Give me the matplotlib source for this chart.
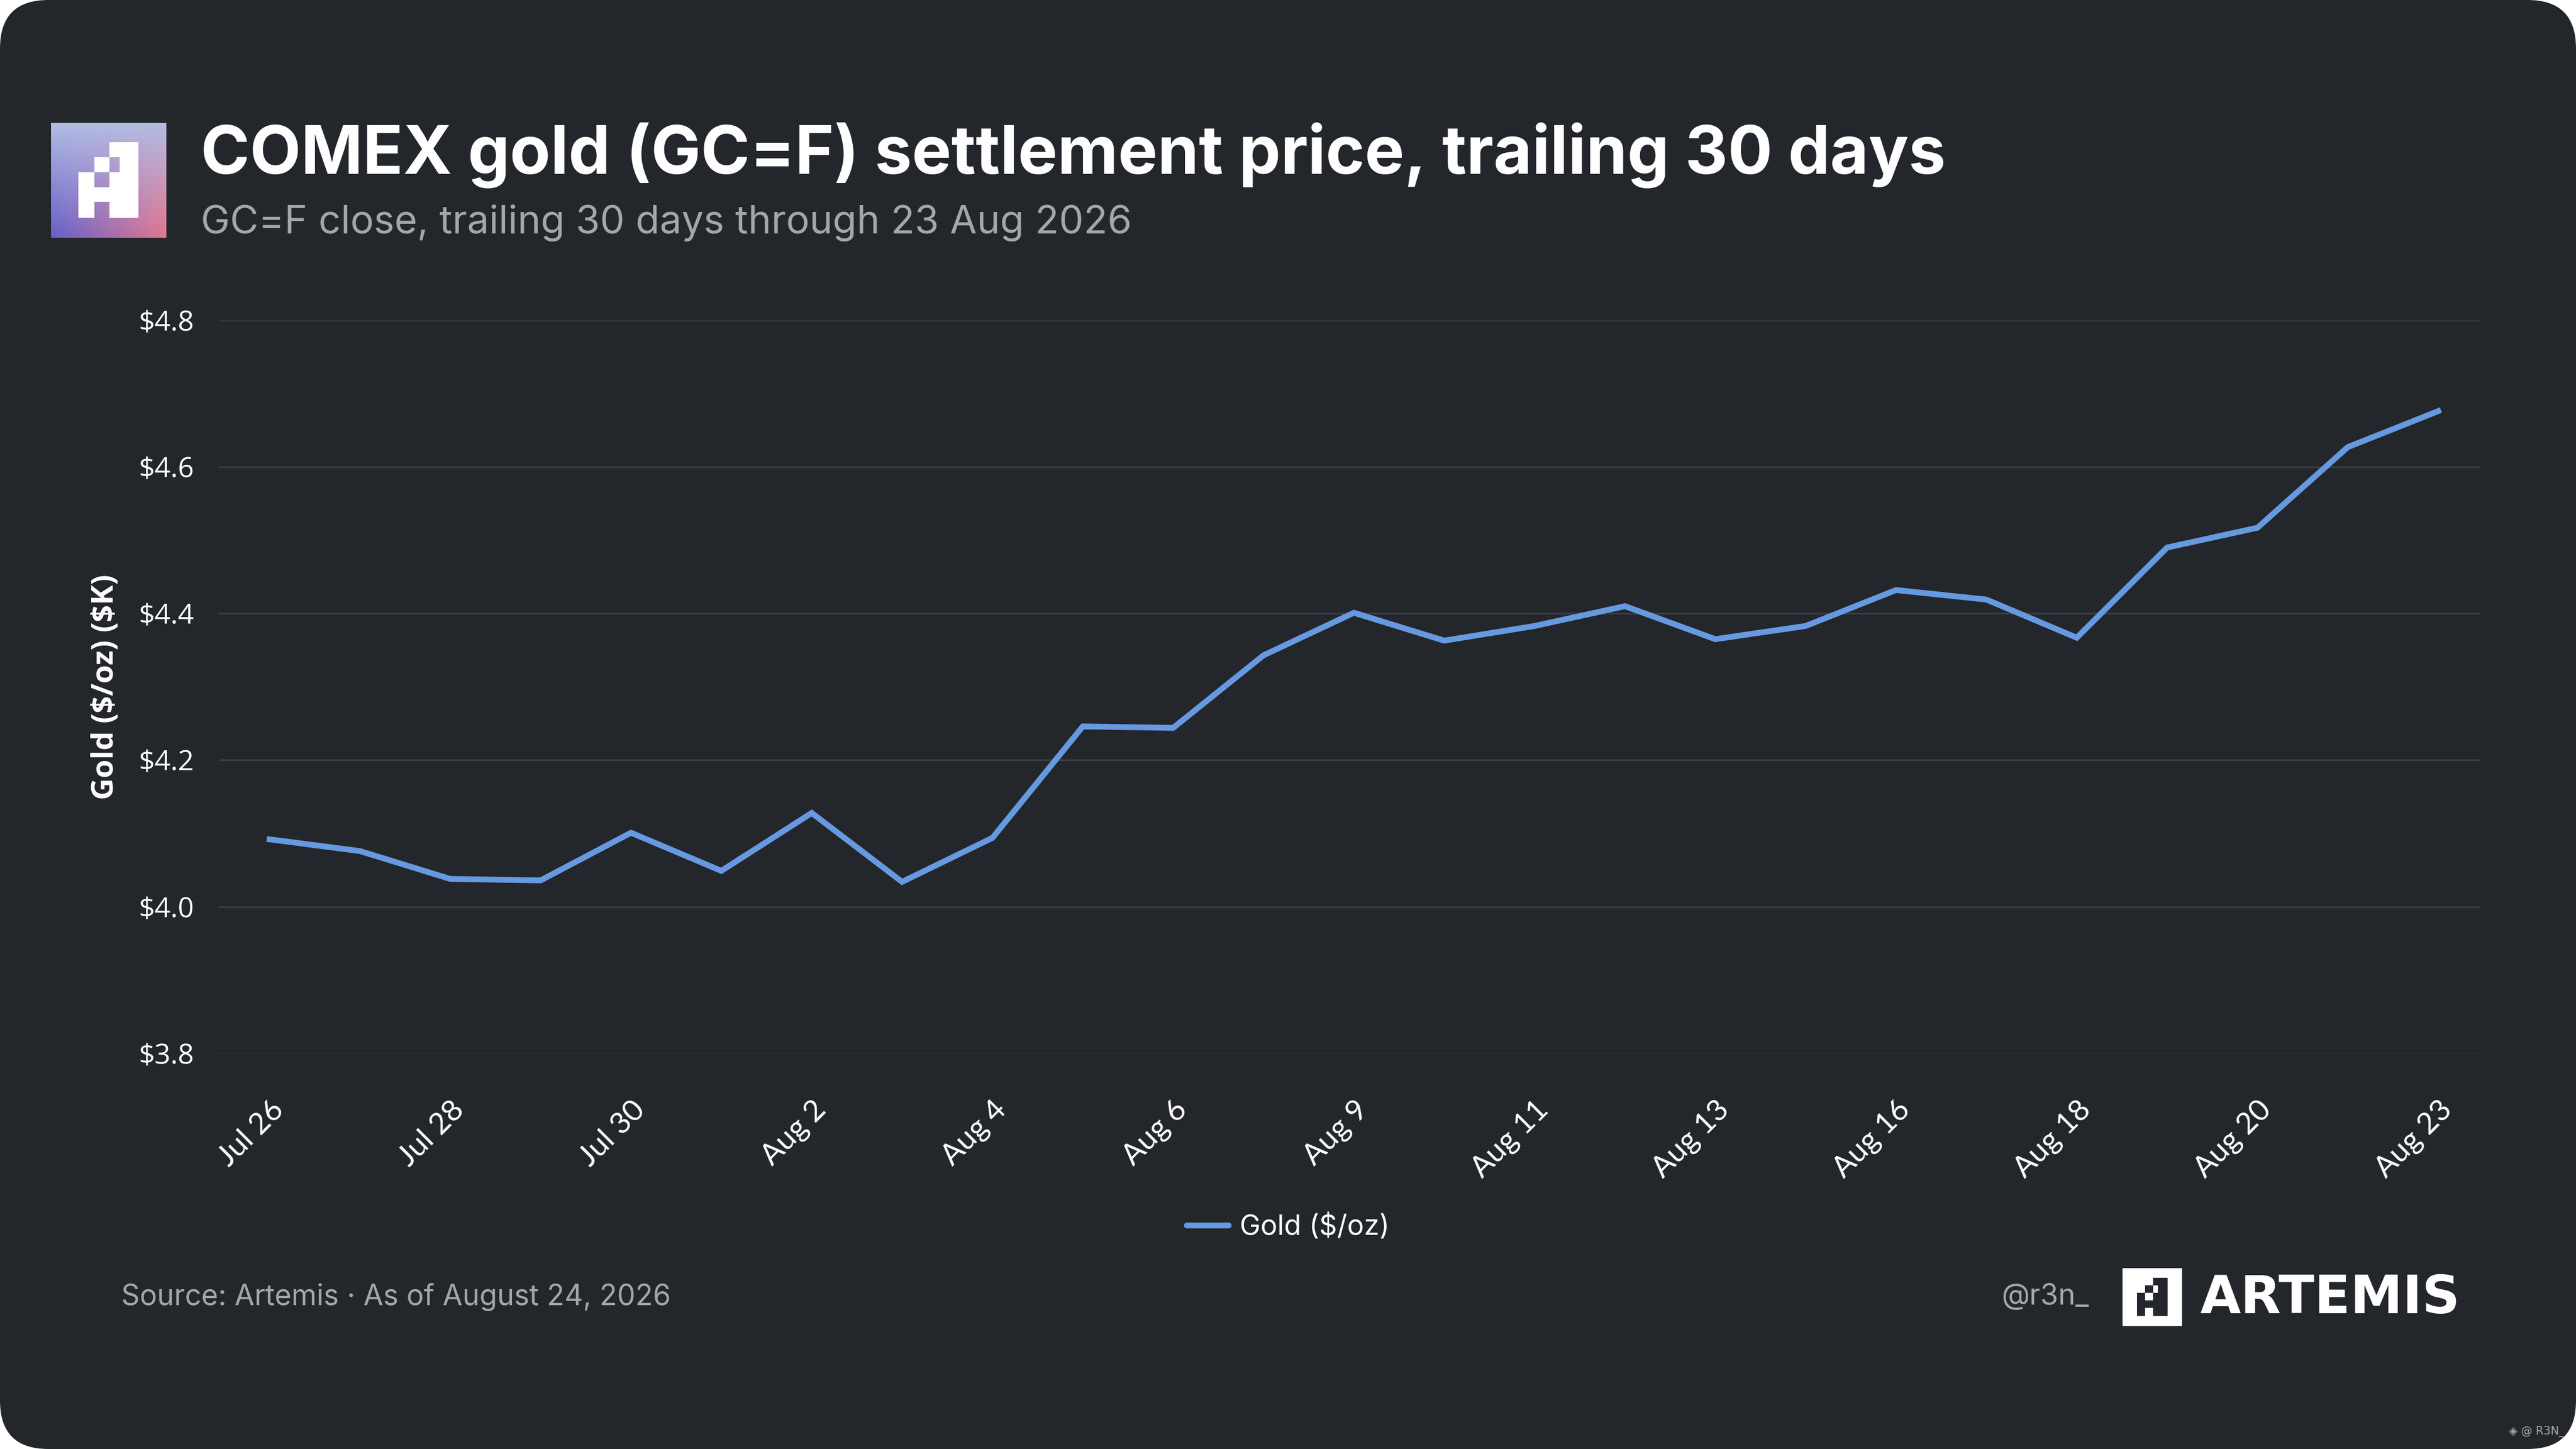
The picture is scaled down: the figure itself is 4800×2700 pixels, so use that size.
import numpy as np
import matplotlib
matplotlib.use('Agg')
import matplotlib.pyplot as plt
from matplotlib.patches import FancyBboxPatch, Rectangle
from matplotlib.transforms import IdentityTransform

# data
dates = ['Jul 26', 'Jul 27', 'Jul 28', 'Jul 29', 'Jul 30', 'Jul 31', 'Aug 2',
         'Aug 3', 'Aug 4', 'Aug 5', 'Aug 6', 'Aug 7', 'Aug 9', 'Aug 10',
         'Aug 11', 'Aug 12', 'Aug 13', 'Aug 14', 'Aug 16', 'Aug 17', 'Aug 18',
         'Aug 19', 'Aug 20', 'Aug 21', 'Aug 23']
gold = [4.092, 4.076, 4.038, 4.036, 4.101, 4.049, 4.128, 4.034, 4.094,
        4.246, 4.244, 4.343, 4.401, 4.363, 4.383, 4.410, 4.365, 4.383,
        4.432, 4.419, 4.367, 4.490, 4.517, 4.627, 4.676]
yticks = [3.8, 4.0, 4.2, 4.4, 4.6, 4.8]

BG = '#23262b'
LINE = '#6699e0'
GRID = '#393c42'
MUTED = '#a3a6ab'

fig = plt.figure(figsize=(16, 9), dpi=300)
fig.patch.set_facecolor('white')

# rounded card
card = FancyBboxPatch((0, 0), 4800, 2700, boxstyle='round,pad=0,rounding_size=90',
                      transform=IdentityTransform(), facecolor=BG, edgecolor='none',
                      zorder=-10)
fig.patches.append(card)


def draw_glyph(ax, fg):
    # pixel style "A" mark, coords as fractions of the box, y from top
    blocks = [
        (0.51, 0.17, 0.76, 0.30),
        (0.60, 0.30, 0.76, 0.83),
        (0.38, 0.30, 0.51, 0.43),
        (0.24, 0.43, 0.38, 0.83),
        (0.38, 0.56, 0.60, 0.69),
        (0.51, 0.43, 0.60, 0.56),
        (0.51, 0.69, 0.60, 0.83),
    ]
    for x0, y0, x1, y1 in blocks:
        ax.add_patch(Rectangle((x0, 1 - y1), x1 - x0, y1 - y0, facecolor=fg,
                               edgecolor='none', transform=ax.transAxes))


# header logo with gradient
lax = fig.add_axes([0.0198, 0.836, 0.0446, 0.0793])
n = 200
t = np.linspace(0, 1, n)[:, None, None]
s = np.linspace(0, 1, n)[None, :, None]
top = np.array([178, 188, 228]) / 255
bl = np.array([100, 96, 200]) / 255
br = np.array([228, 118, 142]) / 255
grad = top * (1 - t) + t * (bl * (1 - s) + br * s)
grad = np.clip(grad, 0, 1)
lax.imshow(grad, extent=[0, 1, 0, 1], aspect='auto')
lax.set_xlim(0, 1)
lax.set_ylim(0, 1)
lax.axis('off')
draw_glyph(lax, 'white')

fig.text(0.078, 0.880, 'COMEX gold (GC=F) settlement price, trailing 30 days',
         fontsize=29.7, fontweight='bold', color='white', family='Inter')
fig.text(0.078, 0.839, 'GC=F close, trailing 30 days through 23 Aug 2026',
         fontsize=17.5, color=MUTED, family='Inter')

ax = fig.add_axes([0.085, 0.273, 0.878, 0.506])
ax.set_facecolor(BG)
x = np.arange(len(gold))
ax.plot(x, gold, color=LINE, lw=2.6, solid_joinstyle='miter', label='Gold (\\$/oz)')
ax.set_xlim(-0.56, len(gold) - 1 + 0.47)
ax.set_ylim(3.8, 4.8)
ax.set_yticks(yticks)
ax.set_yticklabels(['\\${:.1f}'.format(v) for v in yticks], family='Open Sans',
                   fontsize=12.5, color='white')
ax.set_xticks(x[::2])
ax.set_xticklabels(dates[::2], rotation=45, ha='right', rotation_mode='anchor',
                   family='Lato', fontsize=13.5, color='white')
ax.tick_params(axis='both', length=0)
ax.tick_params(axis='y', pad=11)
ax.tick_params(axis='x', pad=19)
ax.grid(axis='y', color=GRID, lw=0.8)
ax.set_axisbelow(True)
for sp in ax.spines.values():
    sp.set_visible(False)

fig.text(0.041, 0.526, 'Gold (\\$/oz) (\\$K)', rotation=90, ha='center', va='center',
         fontsize=13.5, fontweight='bold', color='white', family='Open Sans')

leg = fig.legend(loc='center', bbox_to_anchor=(0.5, 0.153), frameon=False,
                 handlelength=1.5, handletextpad=0.4,
                 prop={'family': 'Inter', 'size': 12.5})
for txt in leg.get_texts():
    txt.set_color('white')
for h in leg.get_lines():
    h.set_linewidth(2.6)
    h.set_solid_capstyle('round')

fig.text(0.047, 0.105, 'Source: Artemis \u00b7 As of August 24, 2026', va='center',
         fontsize=12.9, color=MUTED, family='Inter')
fig.text(0.811, 0.105, '@r3n_', va='center', ha='right', fontsize=13, color=MUTED,
         family='Inter')

# footer brand
bax = fig.add_axes([0.8240, 0.085, 0.0230, 0.0400])
bax.set_xlim(0, 1)
bax.set_ylim(0, 1)
bax.add_patch(Rectangle((0, 0), 1, 1, facecolor='white', edgecolor='none'))
bax.axis('off')
draw_glyph(bax, BG)
fig.text(0.854, 0.104, 'ARTEMIS', va='center', ha='left', fontsize=23.5,
         fontweight='bold', color='white', family='DejaVu Sans')

fig.text(0.974, 0.008, '\u25c8 @ R3N_', ha='left', va='bottom', fontsize=5,
         color=MUTED, family='DejaVu Sans')

fig.savefig('out.png', dpi=300, facecolor=fig.get_facecolor())
